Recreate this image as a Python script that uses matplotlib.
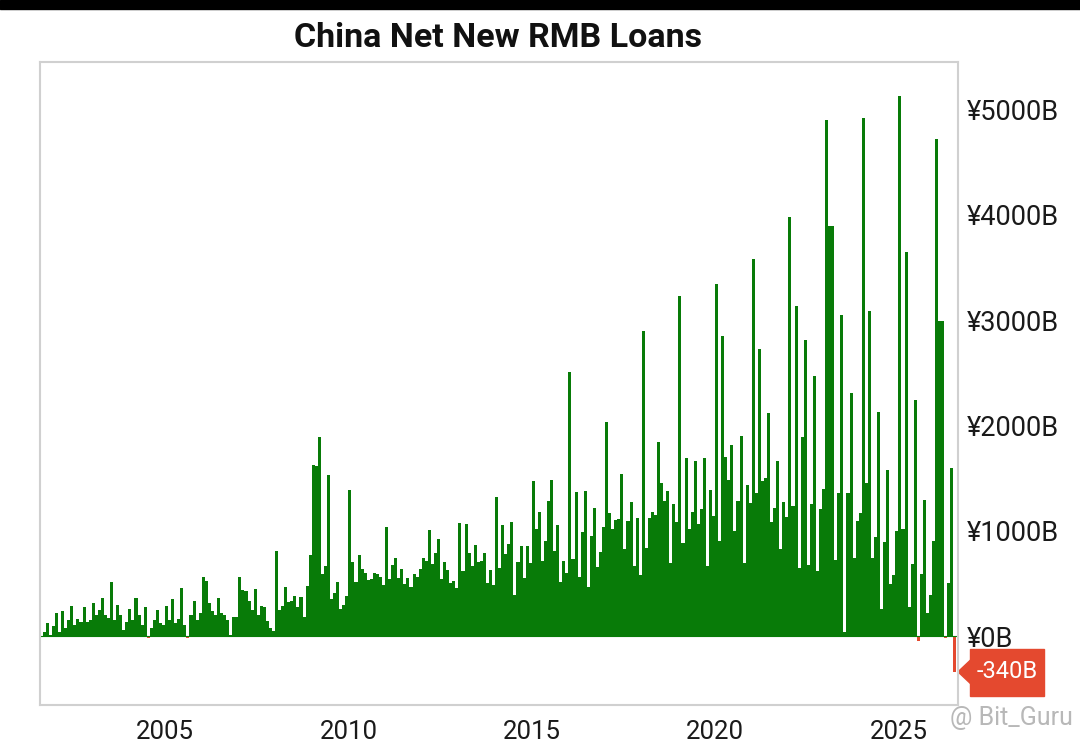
import numpy as np
import pandas as pd
import matplotlib
matplotlib.use("Agg")
import matplotlib.pyplot as plt
from matplotlib.patches import Polygon, Rectangle

plt.rcParams['font.family'] = ['Roboto', 'DejaVu Sans']

# datos mensuales (miles de millones de yuanes), sep 2001 - jul 2026
inicio = '2001-09-01'
v_2001 = [40, 125, 10, 95]
v_2002 = [215, 40, 240, 80, 150, 285, 100, 160, 130, 280, 130, 150]
v_2003 = [316, 200, 250, 363, 200, 170, 515, 150, 294, 200, 60, 130]
v_2004 = [253, 150, 363, 200, 100, 278, -15, 80, 150, 246, 120, 100]
v_2005 = [284, 150, 350, 120, 160, 458, 100, -20, 200, 335, 150, 215]
v_2006 = [562, 525, 310, 240, 200, 357, 220, 200, 150, 10, 180, 180]
v_2007 = [565, 440, 430, 330, 250, 445, 200, 284, 278, 140, 80, 50]
v_2008 = [804, 244, 283, 465, 319, 332, 380, 272, 371, 181, 477, 772]
v_2009 = [1620, 1610, 1890, 592, 665, 1530, 356, 410, 517, 253, 295, 380]
v_2010 = [1390, 700, 511, 774, 639, 603, 533, 545, 596, 588, 564, 481]
v_2011 = [1040, 538, 679, 740, 552, 634, 493, 549, 470, 587, 562, 641]
v_2012 = [738, 711, 1010, 682, 793, 920, 540, 704, 623, 505, 523, 454]
v_2013 = [1070, 620, 1060, 793, 667, 861, 700, 713, 787, 506, 625, 483]
v_2014 = [1320, 645, 1050, 775, 871, 1080, 385, 703, 857, 548, 853, 697]
v_2015 = [1470, 1020, 1180, 708, 901, 1280, 1480, 810, 1050, 514, 709, 598]
v_2016 = [2510, 727, 1370, 556, 986, 1380, 464, 949, 1220, 651, 795, 1040]
v_2017 = [2030, 1170, 1020, 1100, 1110, 1540, 826, 1090, 1270, 663, 1120, 584]
v_2018 = [2900, 839, 1120, 1180, 1150, 1840, 1450, 1280, 1380, 697, 1250, 1080]
v_2019 = [3230, 886, 1690, 1020, 1180, 1660, 1060, 1210, 1690, 661, 1390, 1140]
v_2020 = [3340, 906, 2850, 1700, 1480, 1810, 993, 1280, 1900, 690, 1430, 1260]
v_2021 = [3580, 1360, 2730, 1470, 1500, 2120, 1080, 1220, 1660, 826, 1270, 1130]
v_2022 = [3980, 1230, 3130, 645, 1890, 2810, 679, 1250, 2470, 615, 1210, 1400]
v_2023 = [4900, 3890, 3890, 719, 1360, 3050, 35, 1360, 2310, 738, 1090, 1170]
v_2024 = [4920, 1452, 3086, 740, 944, 2124, 254, 890, 1580, 490, 580, 1000]
v_2025 = [5130, 1017, 3642, 272, 680, 2240, -50, 590, 1290, 215, 389, 900]
v_2026 = [4720, 2995, 2995, -20, 506, 1600, -340]

anios_ticks = [2005, 2010, 2015, 2020, 2025]
y_ticks = [0, 1000, 2000, 3000, 4000, 5000]
titulo = 'China Net New RMB Loans'
etiqueta_ultimo = '-340B'

valores = np.array(v_2001 + v_2002 + v_2003 + v_2004 + v_2005 + v_2006 + v_2007
                   + v_2008 + v_2009 + v_2010 + v_2011 + v_2012 + v_2013 + v_2014
                   + v_2015 + v_2016 + v_2017 + v_2018 + v_2019 + v_2020 + v_2021
                   + v_2022 + v_2023 + v_2024 + v_2025 + v_2026, dtype=float)
fechas = pd.date_range(inicio, periods=len(valores), freq='MS')
x = fechas.year + (fechas.month - 0.5) / 12

verde = '#087b08'
rojo = '#e4492f'
colores = np.where(valores >= 0, verde, rojo)

fig = plt.figure(figsize=(10.8, 7.44), dpi=100)
ax = fig.add_axes([40 / 1080, 1 - 705 / 744, 918 / 1080, 643 / 744])

ax.bar(x, valores, width=1 / 12, color=colores, linewidth=0)
ax.axhline(0, color=verde, linewidth=0.8)

ax.set_xlim(2001.59, 2026.625)
ax.set_ylim(-655, 5451)

# ejes y bordes
for s in ax.spines.values():
    s.set_color('#d0d0d0')
    s.set_linewidth(1.5)
ax.set_xticks(anios_ticks)
ax.set_xticklabels([str(a) for a in anios_ticks])
ax.set_yticks(y_ticks)
ax.set_yticklabels([f'¥{v}B' for v in y_ticks])
ax.yaxis.tick_right()
ax.tick_params(axis='both', length=0, colors='#1a1a1a')
ax.tick_params(axis='x', labelsize=18.5, pad=11)
ax.tick_params(axis='y', labelsize=19.5, pad=6)

fig.text(498 / 1080, 1 - 38 / 744, titulo, ha='center', va='center',
         fontsize=24.5, fontweight='bold', color='#111111')

# etiqueta del ultimo valor
tr = ax.get_yaxis_transform()
ultimo = valores[-1]
ax.add_patch(Polygon([[1.0, ultimo], [1.014, ultimo + 115], [1.014, ultimo - 115]],
                     closed=True, transform=tr, color=rojo, clip_on=False))
ax.add_patch(Rectangle((1.013, ultimo - 225), 0.081, 440, transform=tr,
                       color=rojo, clip_on=False))
ax.text(1.0535, ultimo, etiqueta_ultimo, transform=tr, ha='center', va='center',
        fontsize=17, color='white')

# marca de agua y franja superior
fig.text(950 / 1080, 1 - 718 / 744, '@ Bit_Guru', ha='left', va='center',
         fontsize=18, color='#b8b8b8')
fig.patches.append(Rectangle((0, 1 - 9 / 744), 1, 9 / 744, transform=fig.transFigure,
                             color='black', zorder=0))

fig.savefig('out.png', dpi=100)
